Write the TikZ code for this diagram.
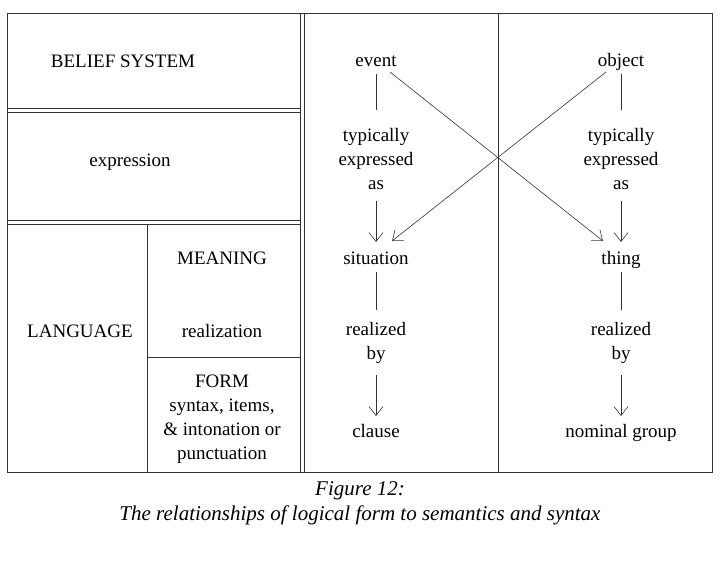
\documentclass[tikz,border=0pt]{standalone}
\usepackage{fontspec}
\setmainfont{Liberation Serif}
\usetikzlibrary{arrows.meta}
\begin{document}
\begin{tikzpicture}[x=1pt,y=-1pt,
  lbl/.style={font=\fontsize{19}{24}\selectfont, align=center, inner sep=1pt},
  one/.style={lbl, anchor=base},
  ln/.style={draw=black!80, line width=0.6pt},
  arr/.style={ln, -{Straight Barb[length=9pt,width=14pt,line width=0.6pt]}}]
\useasboundingbox (0,0) rectangle (720,560);
% frame
\draw[ln] (7,13) rectangle (712,472);
\draw[ln] (300,13) -- (300,472) (304,13) -- (304,472);
\draw[ln] (498,13) -- (498,472);
\draw[ln] (7,108) -- (300,108) (7,112) -- (300,112);
\draw[ln] (7,220) -- (300,220) (7,224) -- (300,224);
\draw[ln] (147,224) -- (147,472);
\draw[ln] (147,357) -- (300,357);
% left texts
\node[one] (bs) at (123,67) {BELIEF SYSTEM};
\node[one] (ex) at (130,166) {expression};
\node[one] (mean) at (222,264) {MEANING};
\node[one] (lang) at (80,337) {LANGUAGE};
\node[one] (real) at (222,337) {realization};
\node[lbl, align=center] (form) at (222,419) {FORM\\syntax, items,\\\& intonation or\\punctuation};
% middle column
\node[one] (event) at (376,66) {event};
\node[lbl] (te) at (376,159) {typically\\expressed\\as};
\node[one] (sit) at (376,264) {situation};
\node[lbl] (rb1) at (376,343) {realized\\by};
\node[one] (cl) at (376,437) {clause};
% right column
\node[one] (obj) at (621,66) {object};
\node[lbl] (te2) at (621,159) {typically\\expressed\\as};
\node[one] (thing) at (621,264) {thing};
\node[lbl] (rb2) at (621,343) {realized\\by};
\node[one] (ng) at (621,437) {nominal group};
% connectors
\coordinate (e1) at (376,74); \coordinate (e2) at (376,110);
\coordinate (e3) at (376,201); \coordinate (e4) at (376,242);
\draw[ln] (e1) -- (e2); \draw[arr] (e3) -- (e4);
\coordinate (o1) at (621,74); \coordinate (o2) at (621,110);
\coordinate (o3) at (621,201); \coordinate (o4) at (621,242);
\draw[ln] (o1) -- (o2); \draw[arr] (o3) -- (o4);
\coordinate (s1) at (376,272); \coordinate (s2) at (376,310);
\coordinate (s3) at (376,375); \coordinate (s4) at (376,416);
\draw[ln] (s1) -- (s2); \draw[arr] (s3) -- (s4);
\coordinate (t1) at (621,272); \coordinate (t2) at (621,310);
\coordinate (t3) at (621,375); \coordinate (t4) at (621,416);
\draw[ln] (t1) -- (t2); \draw[arr] (t3) -- (t4);
\coordinate (c1) at (390,72); \coordinate (c2) at (603,241);
\coordinate (c3) at (606,72); \coordinate (c4) at (392,241);
\draw[arr] (c1) -- (c2); \draw[arr] (c3) -- (c4);
% caption
\node[font=\fontsize{21}{24}\selectfont\itshape] (cap1) at (360,491) {Figure 12:};
\node[font=\fontsize{21}{24}\selectfont\itshape] (cap2) at (360,515) {The relationships of logical form to semantics and syntax};
\end{tikzpicture}
\end{document}
